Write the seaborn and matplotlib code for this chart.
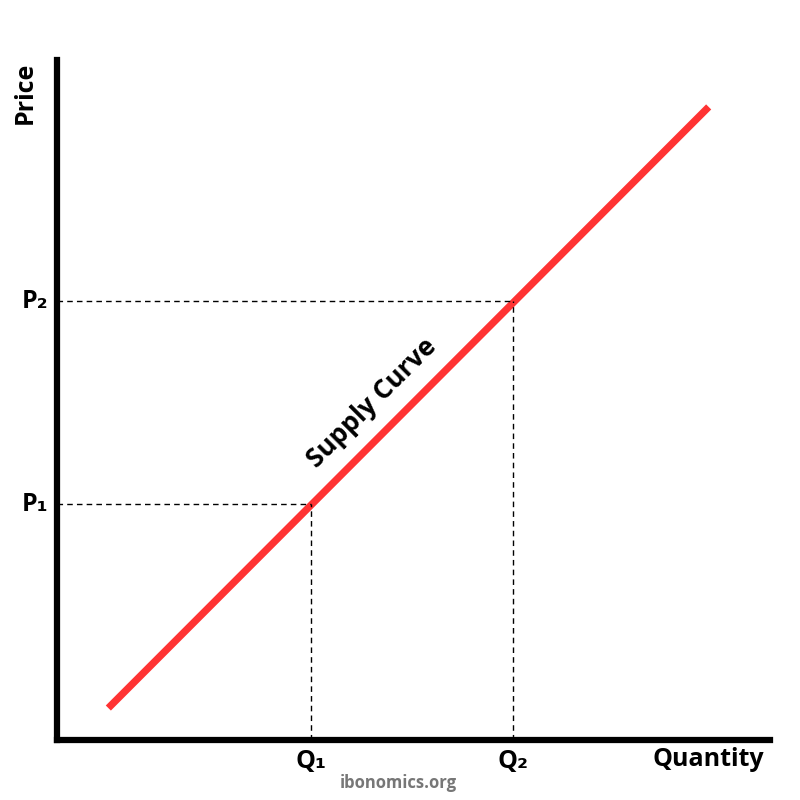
import matplotlib
matplotlib.use("Agg")
import matplotlib.pyplot as plt
import seaborn as sns
import pandas as pd

# supply curve end points (quantity, price) in chart units
supply_q = [0.72, 9.14]
supply_p = [0.47, 9.31]

# marked points on the curve
q_marks = [3.56, 6.40]
p_marks = [3.47, 6.45]
q_labels = ["Q₁", "Q₂"]
p_labels = ["P₁", "P₂"]

sns.set_style("white")
plt.rcParams['font.family'] = ['Open Sans', 'DejaVu Sans']
plt.rcParams['text.color'] = 'black'

fig = plt.figure(figsize=(8, 8), dpi=100)
ax = fig.add_axes([57 / 800, 60 / 800, 713 / 800, 680 / 800])

df = pd.DataFrame({"q": supply_q, "p": supply_p})
sns.lineplot(data=df, x="q", y="p", ax=ax, color="#ff3333", linewidth=5.2,
             solid_capstyle="butt")

for q, p in zip(q_marks, p_marks):
    ax.plot([0, q], [p, p], color="black", linestyle=(0, (4, 3)), linewidth=1)
    ax.plot([q, q], [0, p], color="black", linestyle=(0, (4, 3)), linewidth=1)

ax.set_xlim(0, 10)
ax.set_ylim(0, 10)
ax.set_xticks([])
ax.set_yticks([])
ax.set_xlabel("")
ax.set_ylabel("")
for side in ["top", "right"]:
    ax.spines[side].set_visible(False)
for side in ["left", "bottom"]:
    ax.spines[side].set_linewidth(4.5)
    ax.spines[side].set_color("black")

# axis titles
fig.text(25 / 800, 1 - 93 / 800, "Price", rotation=90, ha="center", va="center",
         fontsize=18, fontweight="bold", color="black")
fig.text(764 / 800, 1 - 760 / 800, "Quantity", ha="right", va="center",
         fontsize=18, fontweight="bold", color="black")

for q, lab in zip(q_marks, q_labels):
    ax.annotate(lab, xy=(q, 0), xytext=(0, -22), textcoords="offset pixels",
                ha="center", va="center", fontsize=18, fontweight="bold",
                color="black", annotation_clip=False)
for p, lab in zip(p_marks, p_labels):
    ax.annotate(lab, xy=(0, p), xytext=(-22, 0), textcoords="offset pixels",
                ha="center", va="center", fontsize=18, fontweight="bold",
                color="black", annotation_clip=False)

ax.text(4.42, 4.95, "Supply Curve", rotation=45, ha="center", va="center",
        fontsize=19, fontweight="bold", color="black", rotation_mode="anchor")

fig.text(398 / 800, 1 - 783 / 800, "ibonomics.org", ha="center", va="center",
         fontsize=12, fontweight="bold", color="#777777")

fig.savefig("out.png", dpi=100, facecolor="white")
